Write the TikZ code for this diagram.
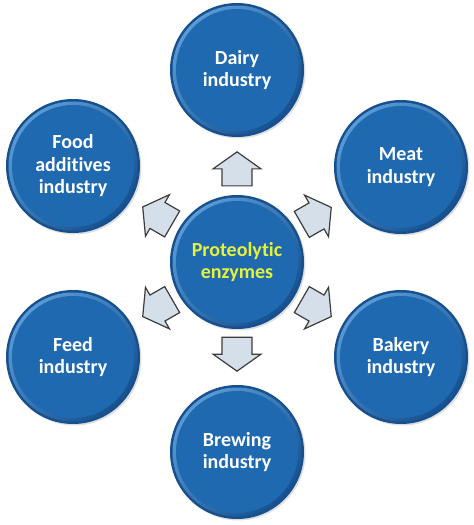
\documentclass[tikz,border=0pt]{standalone}
\usepackage{fontspec}
\setmainfont{Carlito}[Ligatures=NoCommon]
\usetikzlibrary{calc,shadows}
\definecolor{bdark}{HTML}{16508E}
\definecolor{bmain}{HTML}{1F69B0}
\definecolor{blight}{HTML}{5A9CD8}
\definecolor{ytext}{HTML}{E6F23A}
\definecolor{afill}{HTML}{D5DFEA}
\definecolor{aline}{HTML}{3C3C3C}
\tikzset{
 hub/.style={circle, minimum size=134pt, inner sep=0pt, fill=bdark, text=white, align=center,
   font=\bfseries\fontsize{20}{22.5}\selectfont,
   drop shadow={opacity=0.25, shadow xshift=1.5pt, shadow yshift=-1.5pt},
   path picture={\shade[top color=blight, bottom color=bdark, shading angle=45] (path picture bounding box.center) circle (64.5pt);
     \fill[bmain] (path picture bounding box.center) circle (61pt);}},
 blockarrow/.pic={\draw[fill=afill, draw=aline, line width=1.2pt, line join=miter]
   (-17,-15)--(0,-15)--(0,-24)--(17,0)--(0,24)--(0,15)--(-17,15)--cycle;}
}
\begin{document}
\begin{tikzpicture}[x=1pt,y=-1pt]
\useasboundingbox (0,0) rectangle (474,525);
\node[hub] (dairy) at (237,70) {Dairy\\industry};
\node[hub] (meat) at (401,167) {Meat\\industry};
\node[hub] (bakery) at (401,357) {Bakery\\industry};
\node[hub] (brew) at (237,452) {Brewing\\industry};
\node[hub] (feed) at (73,357) {Feed\\industry};
\node[hub] (food) at (73,166) {Food\\additives\\industry};
\node[hub, text=ytext] (enz) at (237,262) {Proteolytic\\enzymes};
\pic[rotate=90] (aup) at ($(enz)!0.485!(dairy)$) {blockarrow};
\pic[rotate=30] (aur) at ($(enz)!0.485!(meat)$) {blockarrow};
\pic[rotate=-30] (alr) at ($(enz)!0.485!(bakery)$) {blockarrow};
\pic[rotate=-90] (adn) at ($(enz)!0.485!(brew)$) {blockarrow};
\pic[rotate=210] (all) at ($(enz)!0.485!(feed)$) {blockarrow};
\pic[rotate=150] (aul) at ($(enz)!0.485!(food)$) {blockarrow};
\end{tikzpicture}
\end{document}
